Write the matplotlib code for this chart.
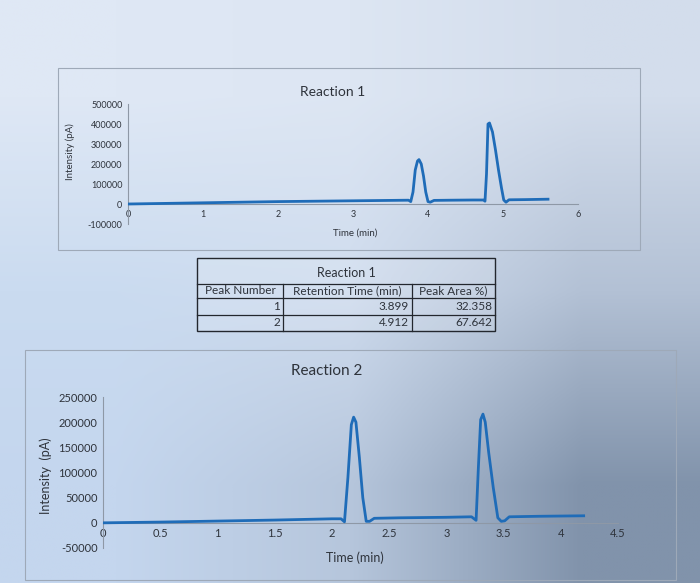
#!/usr/bin/env python3
"""Two GC chromatograms (Reaction 1 / Reaction 2) with a peak table, on a page."""
import matplotlib
matplotlib.use("agg")
import matplotlib.pyplot as plt
import numpy as np
from matplotlib import rcParams
from matplotlib.colors import to_rgb

INK = "#2e333b"; AXIS = "#8e98a6"; LINE = "#1f6cb8"; FRAME = "#9ea9b8"
rcParams["font.family"] = ["Lato", "DejaVu Sans"]

# Reaction 1 chromatogram (time in min, intensity in pA)
r1_time = [0, 0.5, 1, 1.5, 2, 2.5, 3, 3.5, 3.74, 3.77, 3.80, 3.83, 3.86, 3.88, 3.91, 3.94, 3.97,
           4.00, 4.03, 4.08, 4.3, 4.6, 4.74, 4.76, 4.78, 4.80, 4.82, 4.86, 4.90, 4.94, 4.98, 5.01,
           5.04, 5.08, 5.3, 5.6]
r1_int = [0, 3000, 6000, 9000, 12000, 14000, 16000, 18000, 19000, 12000, 60000, 170000, 215000,
          222000, 200000, 140000, 60000, 12000, 9000, 18000, 19000, 20000, 20000, 14000, 150000,
          400000, 405000, 360000, 270000, 170000, 80000, 20000, 9000, 21000, 22000, 24000]

# Reaction 2 chromatogram
r2_time = [0, 0.5, 1, 1.5, 2, 2.08, 2.11, 2.14, 2.17, 2.19, 2.21, 2.24, 2.27, 2.30, 2.33, 2.37,
           2.6, 3.0, 3.22, 3.26, 3.28, 3.30, 3.32, 3.34, 3.37, 3.41, 3.45, 3.48, 3.51, 3.55, 3.8, 4.2]
r2_int = [0, 1500, 3500, 5500, 8000, 8000, 2000, 90000, 195000, 210000, 200000, 130000, 50000,
          3000, 3000, 9000, 10000, 11000, 12000, 5000, 110000, 205000, 216000, 200000, 140000,
          70000, 10000, 3000, 4000, 12000, 13000, 14000]

# Peak table for Reaction 1
tbl_title = "Reaction 1"
tbl_header = ["Peak Number", "Retention Time (min)", "Peak Area %)"]
peak_number = [1, 2]
retention_time = [3.899, 4.912]
peak_area = [32.358, 67.642]

W, H = 700, 583
fig = plt.figure(figsize=(7.0, 5.83), dpi=100)

# paper background: lit at the upper left, shaded towards the lower right corner
bg = fig.add_axes([0, 0, 1, 1], zorder=-10)
shade = [["#dfe8f5", "#dde6f3", "#d3ddec"],
         ["#cadbf0", "#cfdcee", "#b3c1d5"],
         ["#c4d6ee", "#b6c6dc", "#8193ab"]]
bg.imshow(np.array([[to_rgb(c) for c in r] for r in shade]), extent=(0, 1, 0, 1),
          origin="upper", interpolation="bilinear", aspect="auto")
bg.axis("off")


def px_axes(x0, y0, x1, y1, z=1):
    # pixel box (top-left origin) -> figure fraction axes
    return fig.add_axes([x0 / W, 1 - y1 / H, (x1 - x0) / W, (y1 - y0) / H], zorder=z)


def chromatogram(ax, t, y, xlim, ylim, xticks, yticks, fs, title, tsize, title_pad, title_x):
    ax.patch.set_alpha(0)
    ax.plot(t, y, color=LINE, lw=2.0, solid_joinstyle="round", zorder=3)
    ax.set_xlim(*xlim); ax.set_ylim(*ylim)
    for s in ("top", "right"):
        ax.spines[s].set_visible(False)
    ax.spines["left"].set_position(("data", 0))
    ax.spines["bottom"].set_position(("data", 0))
    for s in ("left", "bottom"):
        ax.spines[s].set_color(AXIS); ax.spines[s].set_linewidth(0.8)
    ax.set_xticks(xticks); ax.set_yticks(yticks)
    ax.set_xticklabels([f"{v:g}" for v in xticks])
    ax.set_yticklabels([f"{v:d}" for v in yticks])
    ax.tick_params(length=0, labelsize=fs, colors=INK, pad=4)
    ax.set_title(title, fontsize=tsize, color=INK, pad=title_pad, x=title_x)


# overlay axes in pixel coords for frames and the table
tax = px_axes(0, 0, W, H, z=1)
tax.set_xlim(0, W); tax.set_ylim(H, 0); tax.axis("off")
tax.add_patch(plt.Rectangle((58, 68), 582, 182, fill=False, edgecolor=FRAME, lw=0.8))
tax.add_patch(plt.Rectangle((25, 350), 651, 230, fill=False, edgecolor=FRAME, lw=0.8))

# ---- Reaction 1 ----
ax1 = px_axes(128, 104, 578, 224, z=2)
chromatogram(ax1, r1_time, r1_int, (0, 6), (-100000, 500000), [0, 1, 2, 3, 4, 5, 6],
             [-100000, 0, 100000, 200000, 300000, 400000, 500000], 6.5, "Reaction 1", 10, 6,
             0.455)
ax1.text(0.505, -0.04, "Time (min)", transform=ax1.transAxes, fontsize=7, color=INK,
         ha="center", va="top")
ax1.text(-0.128, 0.6, "Intensity (pA)", transform=ax1.transAxes, fontsize=7, color=INK,
         rotation=90, ha="center", va="center")

# ---- peak table ----
cols = [197, 283, 412, 495]
rows = [258, 284, 298, 315, 331]
tax.add_patch(plt.Rectangle((cols[0], rows[0]), cols[-1] - cols[0], rows[-1] - rows[0],
                            facecolor=(1, 1, 1, 0.12), edgecolor="#23272e", lw=1.0))
for yy in rows[1:-1]:
    tax.plot([cols[0], cols[-1]], [yy, yy], color="#23272e", lw=0.9)
for xx in cols[1:-1]:
    tax.plot([xx, xx], [rows[1], rows[-1]], color="#23272e", lw=0.9)
tax.text((cols[0] + cols[-1]) / 2, (rows[0] + rows[1]) / 2 + 2, tbl_title, fontsize=9,
         color=INK, ha="center", va="center")
for j, h in enumerate(tbl_header):
    tax.text((cols[j] + cols[j + 1]) / 2, (rows[1] + rows[2]) / 2, h, fontsize=8.5,
             color=INK, ha="center", va="center")
for i in range(len(peak_number)):
    yc = (rows[2 + i] + rows[3 + i]) / 2
    vals = [f"{peak_number[i]}", f"{retention_time[i]:.3f}", f"{peak_area[i]:.3f}"]
    for j, v in enumerate(vals):
        tax.text(cols[j + 1] - 3, yc, v, fontsize=8.5, color=INK, ha="right", va="center")

# ---- Reaction 2 ----
ax2 = px_axes(103, 397, 618, 548, z=2)
chromatogram(ax2, r2_time, r2_int, (0, 4.5), (-50000, 250000),
             [0, 0.5, 1, 1.5, 2, 2.5, 3, 3.5, 4, 4.5],
             [-50000, 0, 50000, 100000, 150000, 200000, 250000], 8, "Reaction 2", 11, 16,
             0.435)
ax2.text(0.49, -0.02, "Time (min)", transform=ax2.transAxes, fontsize=9, color=INK,
         ha="center", va="top")
ax2.text(-0.112, 0.48, "Intensity  (pA)", transform=ax2.transAxes, fontsize=9, color=INK,
         rotation=90, ha="center", va="center")

fig.savefig("out.png", dpi=100)
print("wrote out.png")
